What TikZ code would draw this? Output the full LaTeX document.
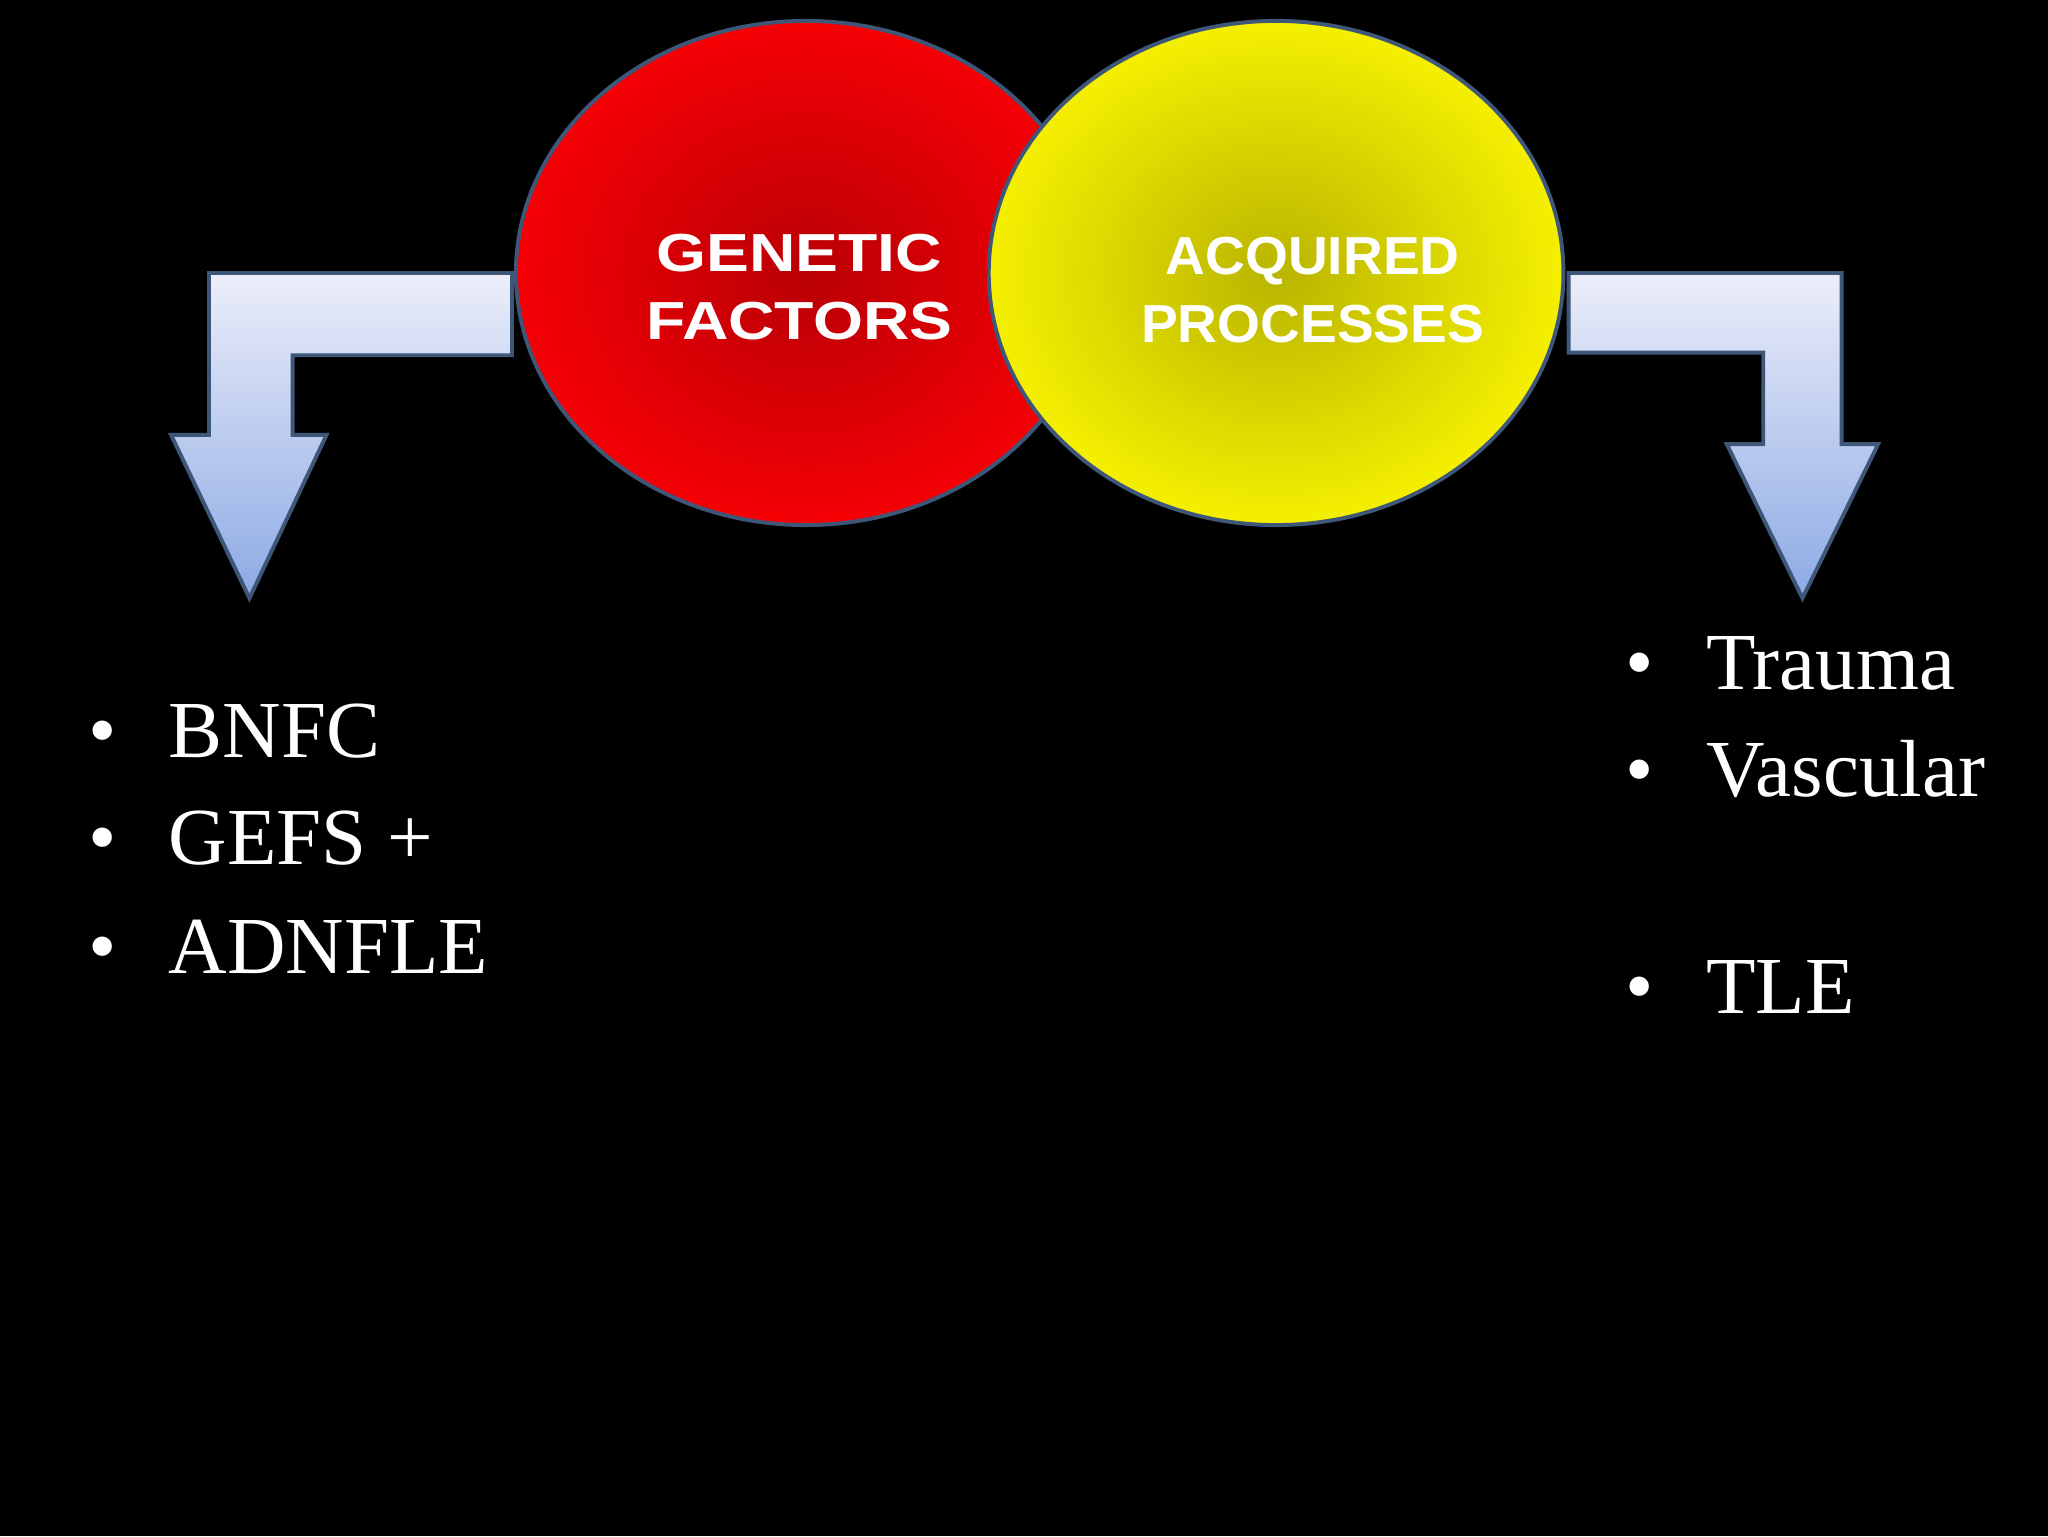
\documentclass[tikz,border=0pt]{standalone}
\usepackage{fontspec}
\setmainfont{Liberation Serif}
\newfontfamily\headfont{Liberation Sans}
\usetikzlibrary{shapes.geometric}
\definecolor{edgeblue}{RGB}{62,86,120}
\definecolor{arrtop}{RGB}{236,238,250}
\definecolor{arrbot}{RGB}{140,170,228}
\tikzset{
  blob/.style={draw=edgeblue,line width=3pt},
  bentarrow/.style={draw=edgeblue,line width=3pt,line join=miter,top color=arrtop,bottom color=arrbot},
  headtxt/.style={text=white,align=center,font=\headfont\bfseries\fontsize{41}{52}\selectfont},
  bul/.style={text=white,anchor=base west,font=\fontsize{62}{74}\selectfont}
}
\newcommand{\wide}[2]{\scalebox{#1}[1]{#2}}
\begin{document}
\begin{tikzpicture}[x=1pt,y=-1pt]
\fill[black] (0,0) rectangle (1568,1176);
\useasboundingbox (0,0) rectangle (1568,1176);
% arrows
\path[bentarrow] (392,209) -- (160,209) -- (160,333) -- (131,333) -- (191,458) -- (250,333) -- (224,333) -- (224,272) -- (392,272) -- cycle;
\path[bentarrow] (1201,209) -- (1410,209) -- (1410,340) -- (1438,340) -- (1380,458) -- (1322,340) -- (1350,340) -- (1350,270) -- (1201,270) -- cycle;
% circles
\path[blob,inner color={rgb,255:red,185;green,0;blue,5},outer color={rgb,255:red,245;green,0;blue,5}] (617,209) ellipse [x radius=222,y radius=193];
\path[blob,inner color={rgb,255:red,185;green,180;blue,0},outer color={rgb,255:red,245;green,240;blue,0}] (977,209) ellipse [x radius=220,y radius=193];
\node[headtxt] (gen) at (612,220) {\wide{1.2}{GENETIC}\\\wide{1.2}{FACTORS}};
\node[headtxt] (acq) at (1005,222) {\wide{1.03}{ACQUIRED}\\\wide{1.03}{PROCESSES}};
% bullets
\node[bul] (l1) at (64,580) {•\hspace{40pt}BNFC};
\node[bul] (l2) at (64,662) {•\hspace{40pt}GEFS +};
\node[bul] (l3) at (64,745) {•\hspace{40pt}ADNFLE};
\node[bul] (r1) at (1241,528) {•\hspace{40pt}Trauma};
\node[bul] (r2) at (1241,610) {•\hspace{40pt}Vascular};
\node[bul] (r3) at (1241,776) {•\hspace{40pt}TLE};
\end{tikzpicture}
\end{document}
